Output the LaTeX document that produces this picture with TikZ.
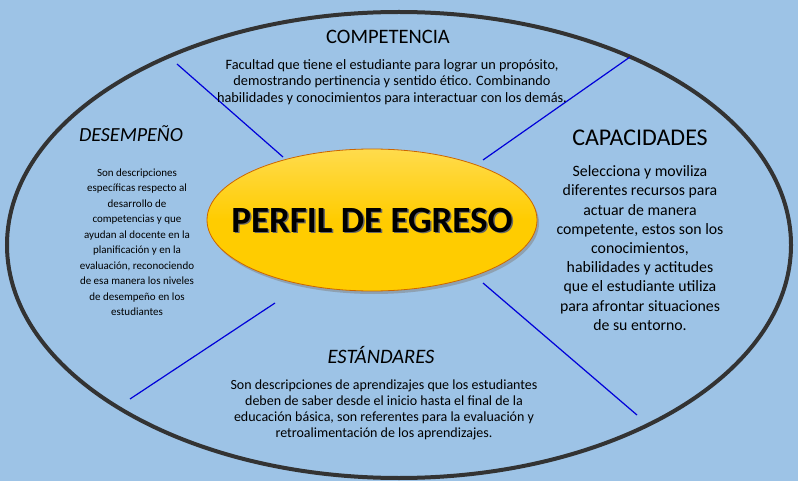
\documentclass[tikz,border=0pt]{standalone}
\usepackage{fontspec}
\setmainfont{Carlito}
\usetikzlibrary{shadows,shapes.geometric}
\definecolor{bg}{HTML}{9DC3E6}
\definecolor{gold}{HTML}{FFCC00}
\begin{document}
\begin{tikzpicture}[x=1pt,y=-1pt,
  ttl/.style={font=\fontsize{20}{22}\selectfont},
  txt/.style={align=center},
  spoke/.style={draw=blue!85!black,line width=1.2pt}]
\fill[bg] (0,0) rectangle (798,481);
\useasboundingbox (0,0) rectangle (798,481);
\node[draw=black!80,line width=4pt,ellipse,minimum width=784,minimum height=466,inner sep=0] (outer) at (399,245) {};
\coordinate (a1) at (177,64); \coordinate (a2) at (283,157);
\coordinate (b1) at (630,57); \coordinate (b2) at (483,160);
\coordinate (c1) at (130,399); \coordinate (c2) at (275,303);
\coordinate (d1) at (637,415); \coordinate (d2) at (483,283);
\draw[spoke] (a1)--(a2); \draw[spoke] (b1)--(b2);
\draw[spoke] (c1)--(c2); \draw[spoke] (d1)--(d2);
\node[ellipse,minimum width=330,minimum height=142,inner sep=0,draw=orange!80!black,line width=0.8pt,top color=gold!70!white,bottom color=gold,middle color=gold,drop shadow={shadow xshift=2pt,shadow yshift=-3pt,fill=black!50}] (perfil) at (372,220) {};
\node[font=\fontsize{37}{40}\selectfont\bfseries,text=black!60!white] at (373.5,221.5) {PERFIL DE EGRESO};
\node[font=\fontsize{37}{40}\selectfont\bfseries] (pt) at (372,220) {PERFIL DE EGRESO};
\node[ttl,font=\fontsize{20.5}{22}\selectfont] (comp) at (388,37) {COMPETENCIA};
\node[txt,font=\fontsize{14.3}{16.5}\selectfont] (comptxt) at (392,82) {Facultad que tiene el estudiante para lograr un propósito,\\demostrando pertinencia y sentido ético. Combinando\\habilidades y conocimientos para interactuar con los demás.};
\node[ttl,font=\fontsize{20}{22}\selectfont\itshape] (des) at (131,134) {DESEMPEÑO};
\node[txt,font=\fontsize{11}{15.5}\selectfont] (destxt) at (137,242) {Son descripciones\\específicas respecto al\\desarrollo de\\competencias y que\\ayudan al docente en la\\planificación y en la\\evaluación, reconociendo\\de esa manera los niveles\\de desempeño en los\\estudiantes};
\node[font=\fontsize{24}{26}\selectfont] (cap) at (640,138) {CAPACIDADES};
\node[txt,font=\fontsize{15.8}{19.2}\selectfont] (captxt) at (640,248) {Selecciona y moviliza\\diferentes recursos para\\actuar de manera\\competente, estos son los\\conocimientos,\\habilidades y actitudes\\que el estudiante utiliza\\para afrontar situaciones\\de su entorno.};
\node[ttl,font=\fontsize{20.5}{22}\selectfont\itshape] (est) at (381,355) {ESTÁNDARES};
\node[txt,font=\fontsize{14}{16}\selectfont] (esttxt) at (384,410) {Son descripciones de aprendizajes que los estudiantes\\deben de saber desde el inicio hasta el final de la\\educación básica, son referentes para la evaluación y\\retroalimentación de los aprendizajes.};
\end{tikzpicture}
\end{document}
